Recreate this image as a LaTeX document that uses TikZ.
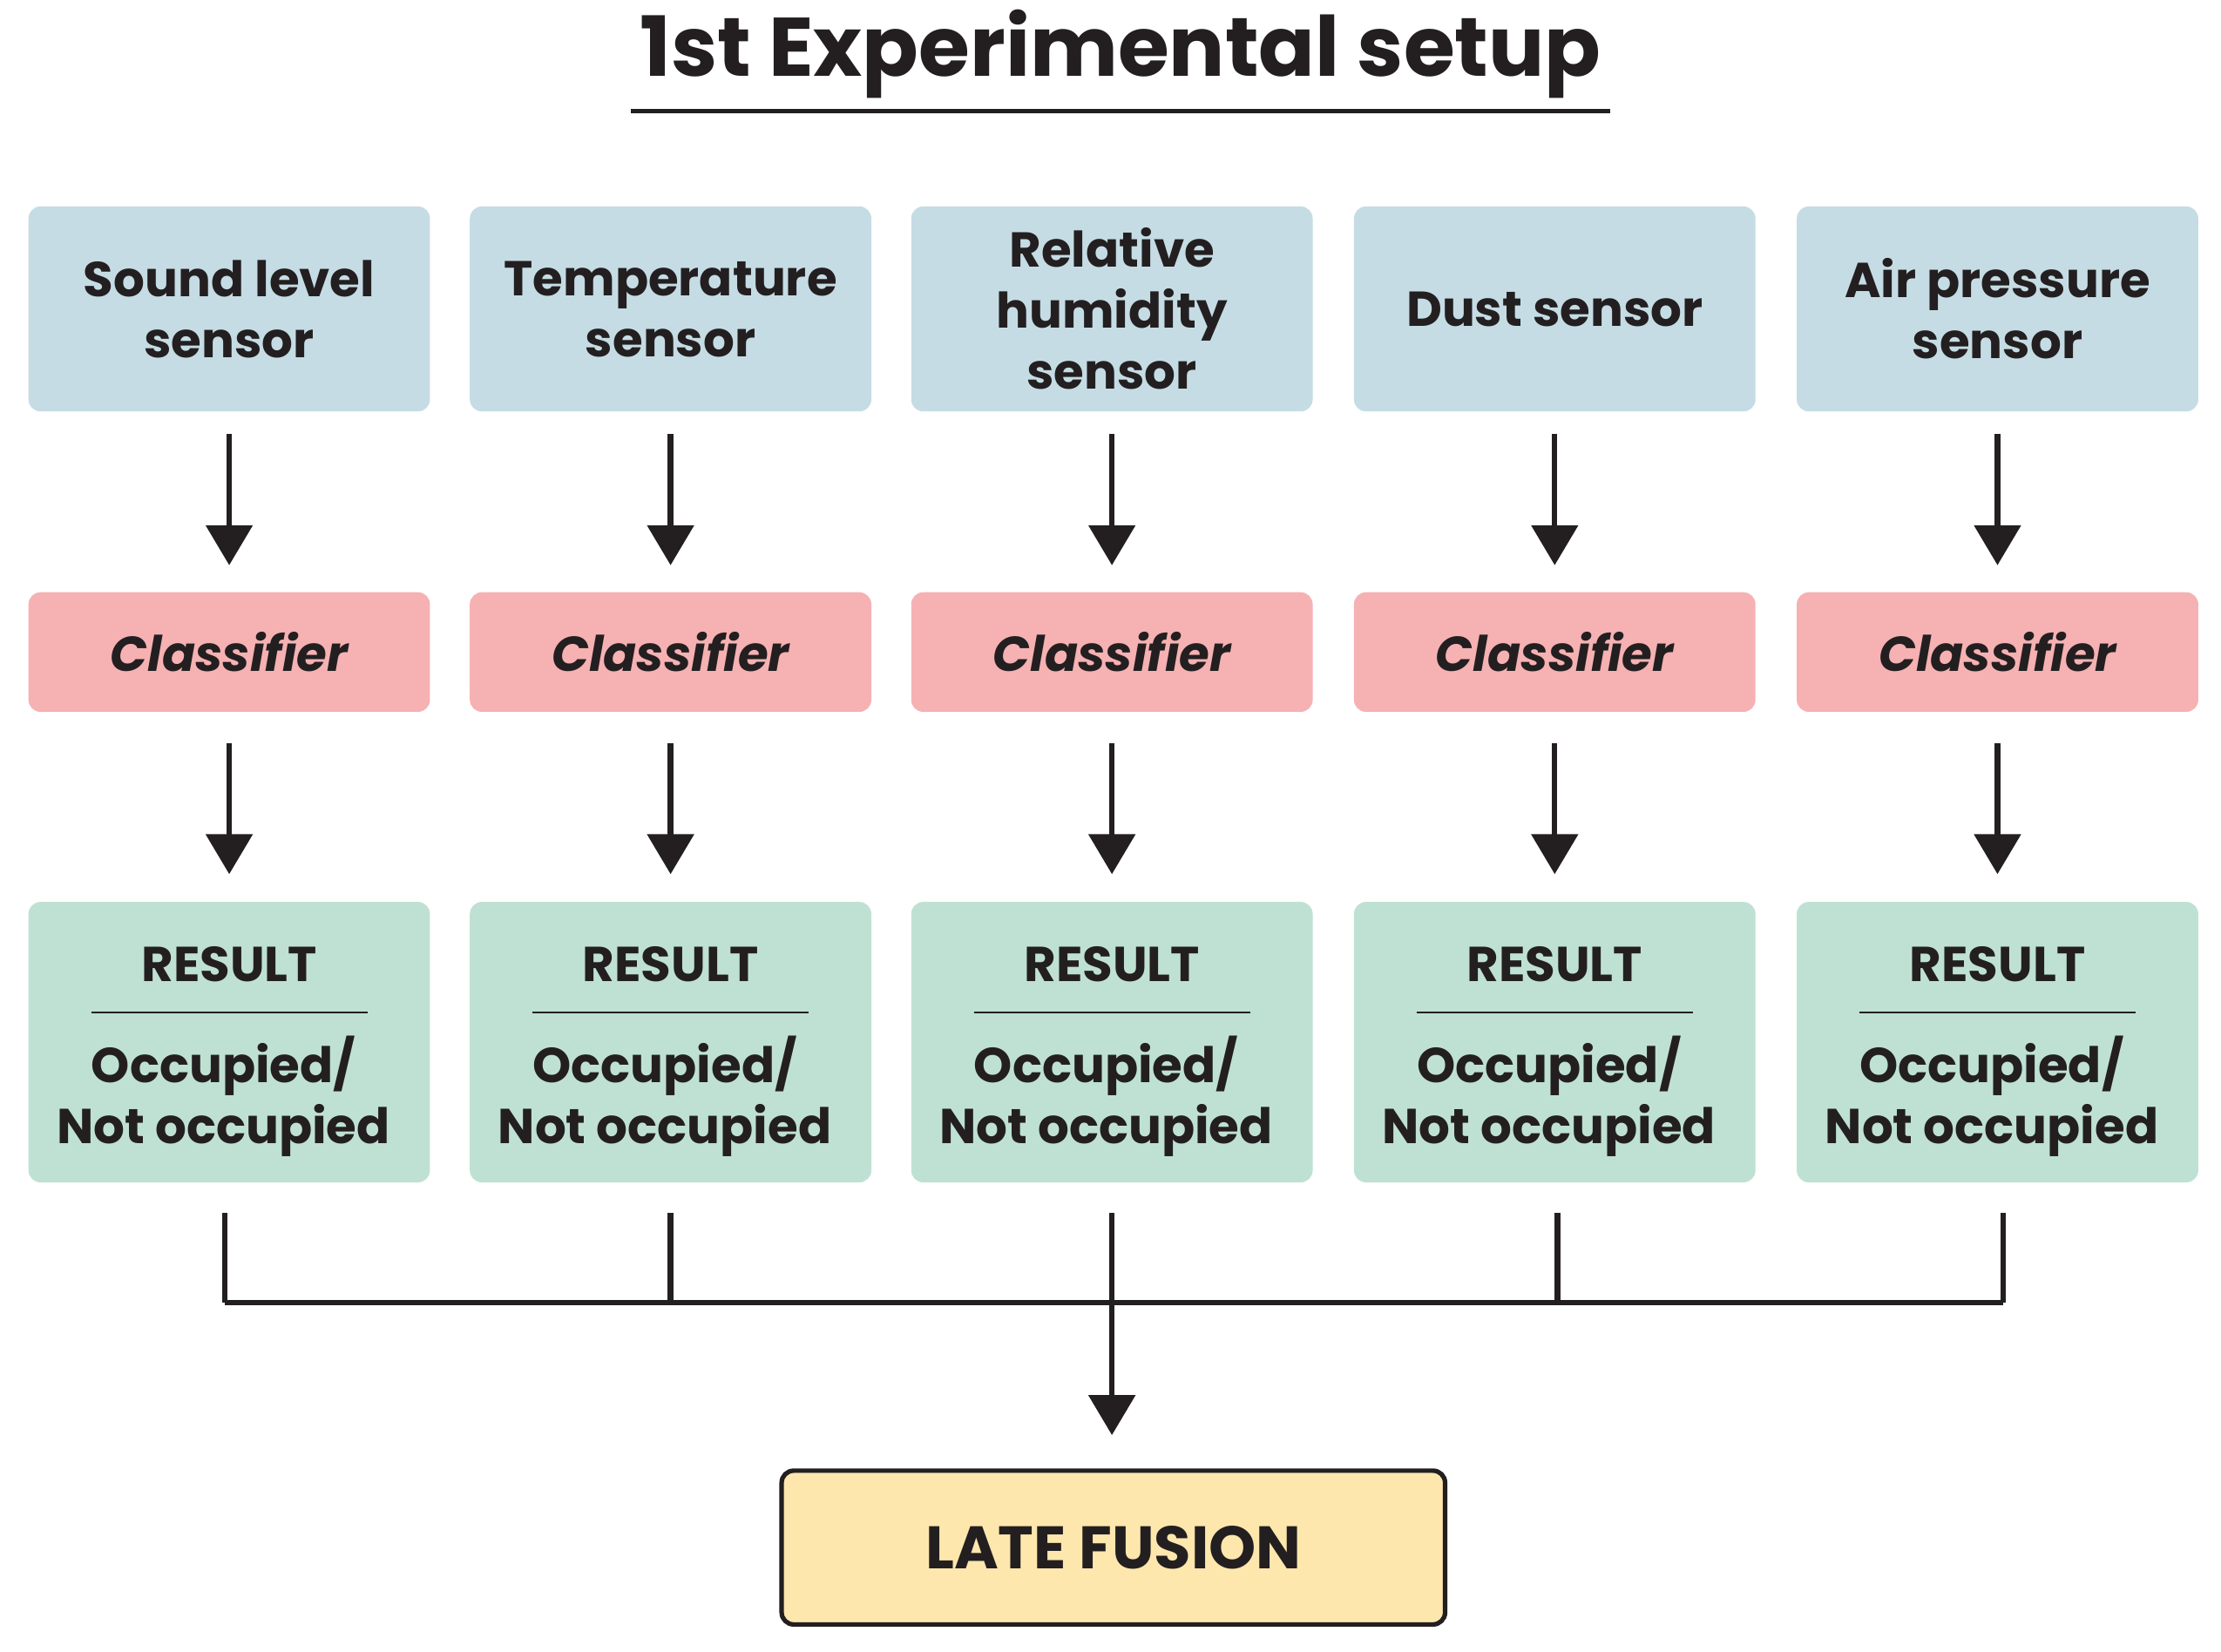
\documentclass[tikz,border=0pt]{standalone}
\usepackage{fontspec}
\setmainfont{Poppins}
\usetikzlibrary{arrows.meta}
\definecolor{ink}{HTML}{231F20}
\definecolor{cblue}{HTML}{C5DCE4}
\definecolor{cpink}{HTML}{F6B1B3}
\definecolor{cgreen}{HTML}{BFE1D3}
\definecolor{cyel}{HTML}{FDE7AD}
\begin{document}
\begin{tikzpicture}[x=0.05cm,y=-0.05cm,
  box/.style={rounded corners=12pt,minimum width=282*0.05cm,inner sep=0pt,align=center,text=ink,font=\fontsize{49}{61}\selectfont\bfseries},
  conn/.style={draw=ink,line width=5.5pt},
  arr/.style={conn,-{Triangle[width=46pt,length=40pt]}}]
\useasboundingbox (0,0) rectangle (1560,1160);
\node[text=ink,font=\fontsize{83}{100}\selectfont\bfseries] (title) at (787,38) {1st Experimental setup};
\coordinate (ul1) at (443,78); \coordinate (ul2) at (1131,78);
\draw[conn,line width=4.5pt] (ul1) -- (ul2);
\foreach \i/\x/\t in {1/161/{Sound level\\sensor},2/471/{Temperature\\sensor},3/781/{Relative\\humidity\\sensor},4/1092/{Dust sensor},5/1403/{Air pressure\\sensor}}{
  \node[box,fill=cblue,minimum height=144*0.05cm] (s\i) at (\x,217) {\t};
  \node[box,fill=cpink,minimum height=84*0.05cm] (c\i) at (\x,458) {\itshape Classifier};
  \node[box,fill=cgreen,minimum height=197*0.05cm] (r\i) at (\x,732) {};
  \node[text=ink,font=\fontsize{49}{61}\selectfont\bfseries] (rt\i) at (\x,677) {RESULT};
  \node[text=ink,align=center,font=\fontsize{49}{61}\selectfont\bfseries] (ro\i) at (\x-4,770) {Occupied/\\Not occupied};
  \coordinate (la\i) at (\x-97,711); \coordinate (lb\i) at (\x+97,711);
  \draw[draw=ink,line width=1.5pt] (la\i) -- (lb\i);
  \coordinate (a1\i) at (\x,305); \coordinate (a2\i) at (\x,397);
  \coordinate (b1\i) at (\x,522); \coordinate (b2\i) at (\x,614);
  \draw[arr] (a1\i) -- (a2\i);
  \draw[arr] (b1\i) -- (b2\i);
}
\node[box,fill=cyel,draw=ink,line width=4.5pt,minimum width=466*0.05cm,minimum height=108*0.05cm,font=\fontsize{60}{70}\selectfont\bfseries] (lf) at (782,1087) {LATE FUSION};
\foreach \i/\x in {1/158,2/471,4/1094,5/1407}{
  \coordinate (t\i) at (\x,852); \coordinate (h\i) at (\x,915);
  \draw[conn] (t\i) -- (h\i);
}
\draw[conn] (h1) -- (h5);
\coordinate (t3) at (781,852);
\coordinate (e3) at (781,1008);
\draw[arr] (t3) -- (e3);
\end{tikzpicture}
\end{document}
